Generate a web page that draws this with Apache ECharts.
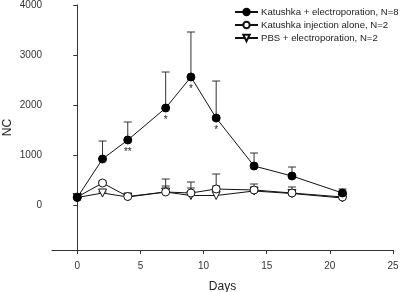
<!DOCTYPE html>
<html>
<head>
<meta charset="utf-8">
<script src="https://cdn.jsdelivr.net/npm/echarts@6/dist/echarts.min.js"></script>
<style>
  html, body { margin: 0; padding: 0; background: #fff; }
  #chart { width: 400px; height: 292px; }
</style>
</head>
<body>
<div id="chart"></div>
<script>
// days sampled
const days = [0, 2, 4, 7, 9, 11, 14, 17, 21]

// Katushka + electroporation, N=8
const katEpMean = [150, 920, 1300, 1940, 2560, 1740, 780, 580, 240]
const katEpErr = [20, 360, 360, 720, 900, 740, 260, 180, 80]
const katEpStars = ['', '', '**', '*', '*', '*', '', '', '']

// Katushka injection alone, N=2
const katInjMean = [160, 440, 170, 260, 240, 320, 300, 240, 160]
const katInjErr = [20, 40, 30, 260, 220, 300, 120, 120, 20]

// PBS + electoporation, N=2
const pbsMean = [150, 240, 160, 260, 190, 190, 280, 230, 140]
const pbsErr = [20, 20, 20, 120, 150, 190, 40, 40, 20]

const yTicks = [0, 1000, 2000, 3000, 4000]
const xTicks = [0, 5, 10, 15, 20, 25]

const font = 'Liberation Sans, Arial, sans-serif'

const errorSeries = (mean, err, color) => ({
    type: 'custom',
    silent: true,
    z: 1,
    data: days.map((d, i) => [d, mean[i], mean[i] + err[i]]),
    renderItem: (params, api) => {
        const p0 = api.coord([api.value(0), api.value(1)])
        const p1 = api.coord([api.value(0), api.value(2)])
        const half = 4
        return {
            type: 'group',
            children: [
                { type: 'line', shape: { x1: p0[0], y1: p0[1], x2: p1[0], y2: p1[1] }, style: { stroke: color, lineWidth: 1 } },
                { type: 'line', shape: { x1: p1[0] - half, y1: p1[1], x2: p1[0] + half, y2: p1[1] }, style: { stroke: color, lineWidth: 1 } },
            ]
        }
    }
})

const chart = echarts.init(document.getElementById('chart'))
const option = {
    animation: false,
    grid: { left: 52, top: 5, right: 7, bottom: 42, containLabel: false, outerBoundsMode: 'none' },
    legend: {
        orient: 'vertical',
        left: 229,
        top: 2,
        itemWidth: 23,
        itemHeight: 8,
        itemGap: 3,
        textStyle: { fontFamily: font, fontSize: 9.6, color: '#222', padding: [0, 0, 0, -2] },
        data: ['Katushka + electroporation, N=8', 'Katushka injection alone, N=2', 'PBS + electroporation, N=2'],
    },
    xAxis: {
        type: 'value',
        min: -2,
        max: 25,
        name: 'Days',
        nameLocation: 'middle',
        nameGap: 31,
        nameMoveOverlap: false,
        nameTextStyle: { fontFamily: font, fontSize: 12, color: '#222' },
        axisLine: { onZero: false, lineStyle: { color: '#333', width: 1 } },
        axisTick: { customValues: xTicks, length: 4, lineStyle: { color: '#333' } },
        axisLabel: { customValues: xTicks, fontFamily: font, fontSize: 10, color: '#333', margin: 11 },
        splitLine: { show: false },
    },
    yAxis: {
        type: 'value',
        min: -900,
        max: 4000,
        name: 'NC',
        nameLocation: 'middle',
        nameGap: 38,
        nameMoveOverlap: false,
        nameTextStyle: { fontFamily: font, fontSize: 12, color: '#222' },
        axisLine: { show: true, lineStyle: { color: '#333', width: 1 } },
        axisTick: { show: true, customValues: yTicks, length: 4, lineStyle: { color: '#333' } },
        axisLabel: { customValues: yTicks, formatter: v => String(v), fontFamily: font, fontSize: 10, color: '#333', margin: 10 },
        splitLine: { show: false },
    },
    series: [
        errorSeries(katInjMean, katInjErr, '#333'),
        errorSeries(pbsMean, pbsErr, '#333'),
        errorSeries(katEpMean, katEpErr, '#333'),
        {
            name: 'PBS + electroporation, N=2',
            type: 'line',
            z: 3,
            data: days.map((d, i) => [d, pbsMean[i]]),
            symbol: 'triangle',
            symbolRotate: 180,
            symbolSize: 8,
            lineStyle: { color: '#111', width: 1 },
            itemStyle: { color: '#fff', borderColor: '#111', borderWidth: 1 },
        },
        {
            name: 'Katushka injection alone, N=2',
            type: 'line',
            z: 4,
            data: days.map((d, i) => [d, katInjMean[i]]),
            symbol: 'circle',
            symbolSize: 8,
            lineStyle: { color: '#111', width: 1 },
            itemStyle: { color: '#fff', borderColor: '#111', borderWidth: 1 },
        },
        {
            name: 'Katushka + electroporation, N=8',
            type: 'line',
            z: 5,
            data: days.map((d, i) => ({
                value: [d, katEpMean[i]],
                label: { show: katEpStars[i] !== '', formatter: katEpStars[i], position: 'bottom', distance: 3, fontFamily: font, fontSize: 10, color: '#222' }
            })),
            symbol: 'circle',
            symbolSize: 8,
            lineStyle: { color: '#111', width: 1 },
            itemStyle: { color: '#000', borderColor: '#000', borderWidth: 1 },
        },
    ],
}
chart.setOption(option)
window.addEventListener('resize', () => chart.resize())
</script>
</body>
</html>
